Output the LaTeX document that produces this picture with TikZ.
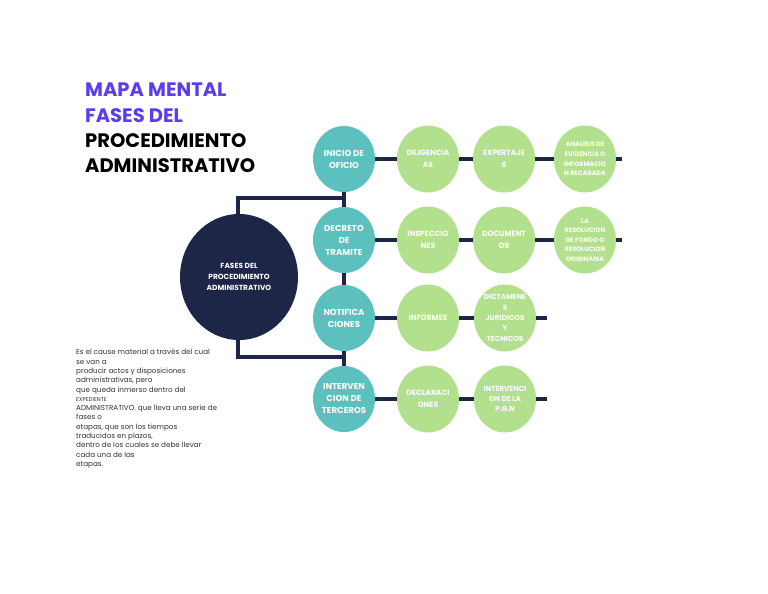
\documentclass[tikz,border=0pt]{standalone}
\usepackage{fontspec}
\setmainfont{Poppins}
\usetikzlibrary{shapes.geometric,backgrounds}
\definecolor{navy}{HTML}{1E2647}
\definecolor{tealc}{HTML}{5CC0BE}
\definecolor{greenc}{HTML}{B3E08C}
\definecolor{titleblue}{HTML}{5B3CF2}
\definecolor{bodytext}{HTML}{333333}
\begin{document}
\begin{tikzpicture}[x=1pt,y=-1pt,
  phase/.style={ellipse,fill=tealc,minimum width=62pt,minimum height=66pt,inner sep=0pt},
  sub/.style={ellipse,fill=greenc,minimum width=62pt,minimum height=67pt,inner sep=0pt},
  ptext/.style={text=white,align=center,inner sep=0pt,font=\fontsize{8.6}{12}\selectfont\bfseries},
  gtext/.style={text=white,align=center,inner sep=0pt,font=\fontsize{7.6}{12}\selectfont\bfseries},
  stext/.style={text=white,align=center,inner sep=0pt,font=\fontsize{6.4}{9.6}\selectfont\bfseries},
  hub/.style={ellipse,fill=navy,minimum width=118pt,minimum height=126pt,inner sep=0pt},
  htext/.style={text=white,align=center,inner sep=0pt,font=\fontsize{7.4}{11}\selectfont\bfseries},
  link/.style={draw=navy,line width=3.2pt},
  ttl/.style={anchor=west,inner sep=0pt,font=\fontsize{19.5}{22}\selectfont\bfseries}
]
\useasboundingbox (0,0) rectangle (768,594);

% title
\node[ttl,text=titleblue] (t1l) at (85,90) {MAPA MENTAL};
\node[ttl,text=titleblue] (t2l) at (85,116) {FASES DEL};
\node[ttl,text=black] (t3l) at (85,141) {PROCEDIMIENTO};
\node[ttl,text=black] (t4l) at (85,166) {ADMINISTRATIVO};

% hub
\node[hub,label={[htext]center:FASES DEL\\PROCEDIMIENTO\\ADMINISTRATIVO}] (hub) at (239,277) {};

% phases
\node[phase,label={[ptext]center:INICIO DE\\OFICIO}] (p1) at (344,159) {};
\node[phase,label={[ptext]center:DECRETO\\DE\\TRAMITE}] (p2) at (344,240) {};
\node[phase,label={[ptext]center:NOTIFICA\\CIONES}] (p3) at (344,318) {};
\node[phase,label={[ptext]center:INTERVEN\\CION DE\\TERCEROS}] (p4) at (344,399) {};

% row 1
\node[sub,label={[gtext]center:DILIGENCIA\\AS}] (a1) at (428,159) {};
\node[sub,label={[gtext]center:EXPERTAJE\\S}] (a2) at (504,159) {};
\node[sub,label={[stext]center:ANALISIS DE\\EVIDENCIA O\\INFORMACIO\\N RECABADA}] (a3) at (585,159) {};
% row 2
\node[sub,label={[gtext]center:INSPECCIO\\NES}] (b1) at (428,240) {};
\node[sub,label={[gtext]center:DOCUMENT\\OS}] (b2) at (504,240) {};
\node[sub,label={[stext]center:LA\\RESOLUCION\\DE FONDO O\\RESOLUCION\\ORIGINARIA}] (b3) at (585,240) {};
% row 3
\node[sub,label={[gtext]center:INFORMES}] (c1) at (428,318) {};
\node[sub,label={[stext,font=\fontsize{7.2}{10.4}\selectfont\bfseries]center:DICTAMENE\\S\\JURIDICOS\\Y\\TECNICOS}] (c2) at (505,318) {};
% row 4
\node[sub,label={[gtext]center:DECLARACI\\ONES}] (d1) at (428,399) {};
\node[sub,label={[stext,font=\fontsize{7.2}{10.4}\selectfont\bfseries]center:INTERVENCI\\ON DE LA\\P.G.N}] (d2) at (505,399) {};

% free ends and corners
\coordinate (e1) at (622,159);
\coordinate (e2) at (622,240);
\coordinate (e3) at (547,318);
\coordinate (e4) at (547,399);
\coordinate (topc) at (238,198);
\coordinate (topr) at (344,198);
\coordinate (botc) at (238,357);
\coordinate (botr) at (344,357);

\begin{scope}[on background layer]
\fill[white] (0,0) rectangle (768,594);
\draw[link] (p1.center) -- (p4.center);
\draw[link] (hub.center -| topc) -- (topc) -- (topr);
\draw[link] (hub.center -| botc) -- (botc) -- (botr);
\draw[link] (p1.center) -- (a1.center) -- (a2.center) -- (a3.center) -- (e1);
\draw[link] (p2.center) -- (b1.center) -- (b2.center) -- (b3.center) -- (e2);
\draw[link] (p3.center) -- (c1.center) -- (c2.center) -- (e3);
\draw[link] (p4.center) -- (d1.center) -- (d2.center) -- (e4);
\end{scope}

% description
\node[anchor=north west,align=left,inner sep=0pt,text=bodytext,
      font=\fontsize{7.2}{9.3}\selectfont] (desc) at (76,349) {%
Es el cause material a través del cual\\
se van a\\
producir actos y disposiciones\\
administrativas, pero\\
que queda inmerso dentro del\\
{\fontsize{5.6}{9.3}\selectfont EXPEDIENTE}\\
ADMINISTRATIVO. que lleva una serie de\\
fases o\\
etapas, que son los tiempos\\
traducidos en plazos,\\
dentro de los cuales se debe llevar\\
cada una de las\\
etapas.};
\end{tikzpicture}
\end{document}
